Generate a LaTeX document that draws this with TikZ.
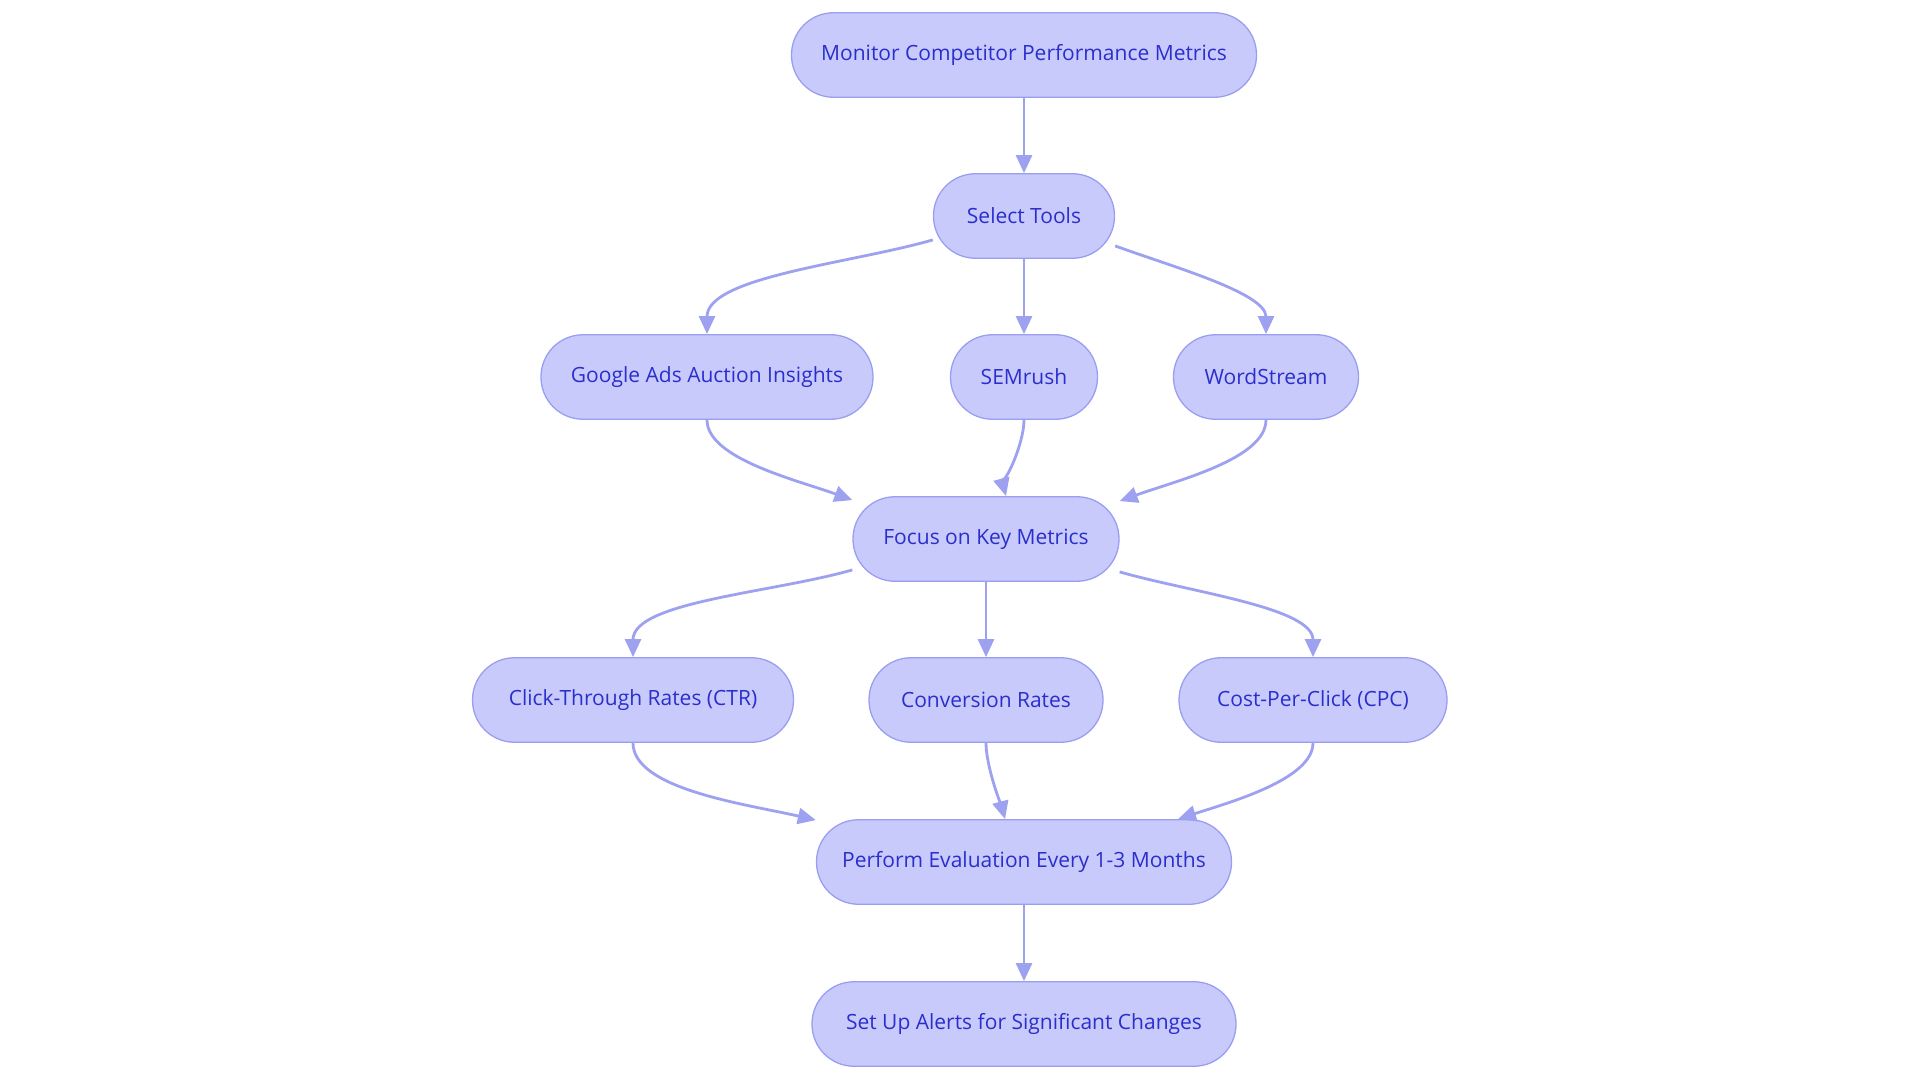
\documentclass[tikz,border=0pt]{standalone}
\usepackage{fontspec}
\setmainfont{Open Sans}
\usetikzlibrary{arrows.meta}
\definecolor{boxfill}{HTML}{C9CAFC}
\definecolor{boxline}{HTML}{9A9EEF}
\definecolor{boxtext}{HTML}{2A2FCB}
\definecolor{linkline}{HTML}{9EA1F0}

\begin{document}
\begin{tikzpicture}[x=1pt,y=1pt]
    \tikzstyle{box}=[rectangle, rounded corners=42pt, draw=boxline, line width=1.3pt, fill=boxfill, text=boxtext, minimum height=84.5pt, inner sep=0pt, font=\fontsize{21}{25}\selectfont]
    \tikzstyle{link}=[draw=linkline, line width=2.8pt, -{Triangle[length=18pt,width=16pt]}]
    \useasboundingbox (0,0) rectangle (1920,-1083);
    \node[box, minimum width=465pt] (monitor) at (1024,-55) {Monitor Competitor Performance Metrics};
    \node[box, minimum width=181pt] (tools) at (1024,-216) {Select Tools};
    \node[box, minimum width=332pt] (google) at (707,-377) {Google Ads Auction Insights};
    \node[box, minimum width=147pt] (semrush) at (1024,-377) {SEMrush};
    \node[box, minimum width=185pt] (wordstream) at (1266,-377) {WordStream};
    \node[box, minimum width=266pt] (focus) at (986,-539) {Focus on Key Metrics};
    \node[box, minimum width=321pt] (ctr) at (633,-700) {Click-Through Rates (CTR)};
    \node[box, minimum width=234pt] (conv) at (986,-700) {Conversion Rates};
    \node[box, minimum width=268pt] (cpc) at (1313,-700) {Cost-Per-Click (CPC)};
    \node[box, minimum width=415pt] (evaluate) at (1024,-862) {Perform Evaluation Every 1-3 Months};
    \node[box, minimum width=424pt] (alerts) at (1024,-1024) {Set Up Alerts for Significant Changes};

    \draw[link] (monitor) -- (tools);
    \draw[link] ([yshift=19pt]tools.south west) to[out=196,in=90,out looseness=0.9,in looseness=0.6] (google.north);
    \draw[link] (tools) -- (semrush);
    \draw[link] ([yshift=13pt]tools.south east) to[out=-20,in=90,out looseness=0.9,in looseness=0.6] (wordstream.north);
    \draw[link] (google.south) to[out=-90,in=160,out looseness=0.6,in looseness=0.9] ([yshift=-4pt]focus.north west);
    \draw[link] (semrush.south) to[out=-90,in=105,out looseness=0.8,in looseness=0.3] ([xshift=20pt]focus.north);
    \draw[link] (wordstream.south) to[out=-90,in=20,out looseness=0.6,in looseness=0.9] ([yshift=-5pt]focus.north east);
    \draw[link] ([yshift=12pt]focus.south west) to[out=196,in=90,out looseness=0.9,in looseness=0.6] (ctr.north);
    \draw[link] (focus) -- (conv);
    \draw[link] ([yshift=10pt]focus.south east) to[out=-16,in=90,out looseness=0.9,in looseness=0.6] (cpc.north);
    \draw[link] (ctr.south) to[out=-90,in=167,out looseness=0.6,in looseness=0.9] ([yshift=-1pt]evaluate.north west);
    \draw[link] (conv.south) to[out=-90,in=105,out looseness=0.8,in looseness=0.3] ([xshift=-19pt]evaluate.north);
    \draw[link] (cpc.south) to[out=-90,in=18,out looseness=0.6,in looseness=0.9] ([xshift=154pt]evaluate.north);
    \draw[link] (evaluate) -- (alerts);
\end{tikzpicture}
\end{document}
